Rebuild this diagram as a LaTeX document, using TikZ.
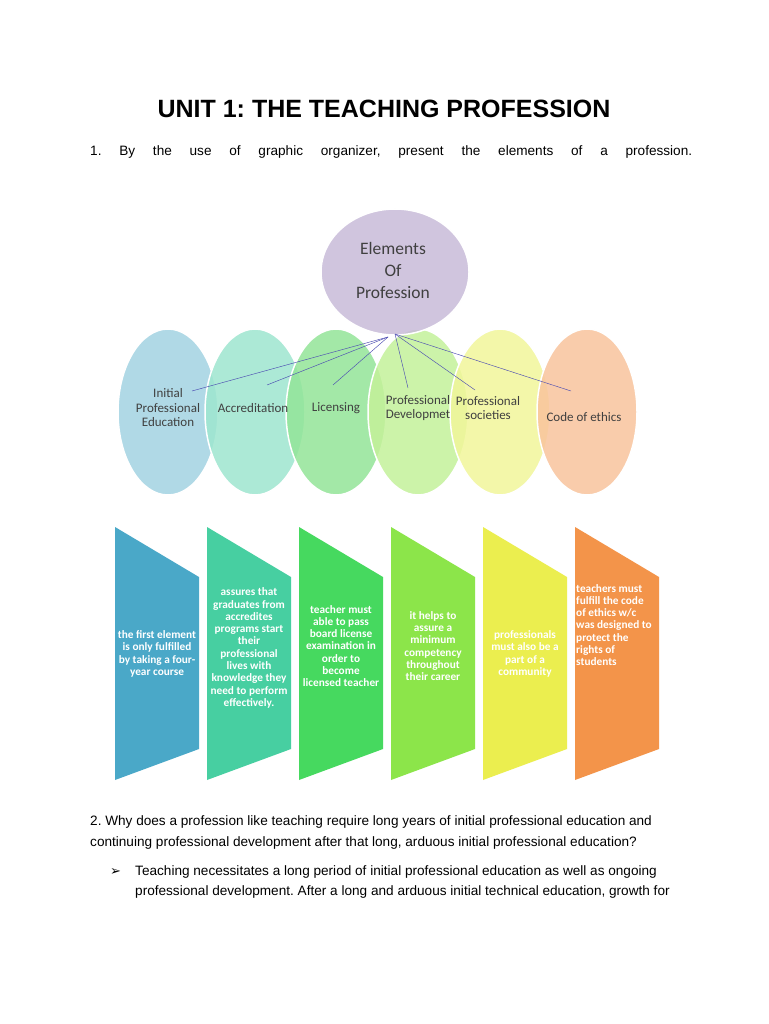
\documentclass[tikz,border=0pt]{standalone}
\usepackage{fontspec}
\setmainfont{Liberation Sans}
\newfontfamily\carlitofont{Carlito}
\newfontfamily\dvfont{DejaVu Sans}
\begin{document}
\frenchspacing
\begin{tikzpicture}[x=1pt,y=-1pt,
  ell/.style={draw=white,line width=1.5pt,fill opacity=0.85},
  lbl/.style={font=\carlitofont\fontsize{13}{14.5}\selectfont,text=black!75,align=center},
  ptx/.style={font=\carlitofont\bfseries\fontsize{11.3}{12.3}\selectfont,text=white,align=center,inner sep=0},
  spoke/.style={draw=blue!40!gray,line width=0.45pt},
  body/.style={font=\fontsize{13.6}{16}\selectfont,anchor=west,inner sep=0}]
\useasboundingbox (0,0) rectangle (768,1024);
\fill[white] (0,0) rectangle (768,1024);
\node[font=\bfseries\fontsize{25}{30}\selectfont] (title) at (384,109) {UNIT 1: THE TEACHING PROFESSION};
\node[body] (q1) at (90,152) {\makebox[602pt][s]{1. By the use of graphic organizer, present the elements of a profession.}};
% ellipses
\foreach \x/\c/\n in {168/A3D3E2/e1,255/9EE6CF/e2,336/93E598/e3,418/C4F19A/e4,500/F1F69A/e5,587/F9C49D/e6}{
  \definecolor{tmp}{HTML}{\c}
  \path[ell,fill=tmp] (\x,412) ellipse [x radius=50,y radius=83];
}
\definecolor{top}{HTML}{C8BBD9}
\path[ell,fill=top] (395,272) ellipse [x radius=74,y radius=63];
\node[font=\carlitofont\fontsize{17.5}{22}\selectfont,align=center,text=black!75] (hub) at (393,270) {Elements\\Of\\Profession};
\coordinate (h1) at (388,337);
\coordinate (h2) at (395,334);
\node[lbl] (l1) at (168,408) {Initial\\Professional\\Education};
\node[lbl] (l2) at (253,408) {Accreditation};
\node[lbl] (l3) at (336,408) {Licensing};
\node[lbl] (l4) at (418,408) {Professional\\Developmet};
\node[lbl] (l5) at (488,408) {Professional\\societies};
\node[lbl] (l6) at (584,417) {Code of ethics};
\coordinate (t1) at (192,391);
\coordinate (t2) at (267,385);
\coordinate (t3) at (333,385);
\coordinate (t4) at (408,388);
\coordinate (t5) at (475,390);
\coordinate (t6) at (571,391);
\draw[spoke] (h1)--(t1); \draw[spoke] (h1)--(t2); \draw[spoke] (h1)--(t3);
\draw[spoke] (h2)--(t4); \draw[spoke] (h2)--(t5); \draw[spoke] (h2)--(t6);
% shapes
\foreach \i/\c/\t in {0/4AA8C8/{the first element\\is only fulfilled\\by taking a four-\\year course},
 1/47CFA1/{assures that\\graduates from\\accredites\\programs start\\their\\professional\\lives with\\knowledge they\\need to perform\\effectively.},
 2/46D95F/{teacher must\\able to pass\\board license\\examination in\\order to\\become\\licensed teacher},
 3/8CE54A/{it helps to\\assure a\\minimum\\competency\\throughout\\their career},
 4/EBEE4F/{professionals\\must also be a\\part of a\\community},
 5/F3944A/{teachers must\\fulfill the code\\of ethics w/c\\was designed to\\protect the\\rights of\\students}}{
  \definecolor{tmp}{HTML}{\c}
  \pgfmathsetmacro\xl{115+92*\i}
  \fill[tmp] (\xl,527) -- (\xl+84,577) -- (\xl+84,749) -- (\xl,780) -- cycle;
}
\node[ptx] (p0) at (157,654) {the first element\\is only fulfilled\\by taking a four-\\year course};
\node[ptx] (p1) at (249,648) {assures that\\graduates from\\accredites\\programs start\\their\\professional\\lives with\\knowledge they\\need to perform\\effectively.};
\node[ptx] (p2) at (341,646) {teacher must\\able to pass\\board license\\examination in\\order to\\become\\licensed teacher};
\node[ptx] (p3) at (433,646) {it helps to\\assure a\\minimum\\competency\\throughout\\their career};
\node[ptx] (p4) at (525,654) {professionals\\must also be a\\part of a\\community};
\node[ptx,align=left] (p5) at (614,625) {teachers must\\fulfill the code\\of ethics w/c\\was designed to\\protect the\\rights of\\students};
\node[body] (q2a) at (90,822) {2. Why does a profession like teaching require long years of initial professional education and};
\node[body] (q2b) at (90,843) {continuing professional development after that long, arduous initial professional education?};
\node[body,font=\dvfont\fontsize{13}{15}\selectfont] (bul) at (110,872) {➢};
\node[body] (a1) at (135,872) {Teaching necessitates a long period of initial professional education as well as ongoing};
\node[body] (a2) at (135,892) {professional development. After a long and arduous initial technical education, growth for};
\end{tikzpicture}
\end{document}
